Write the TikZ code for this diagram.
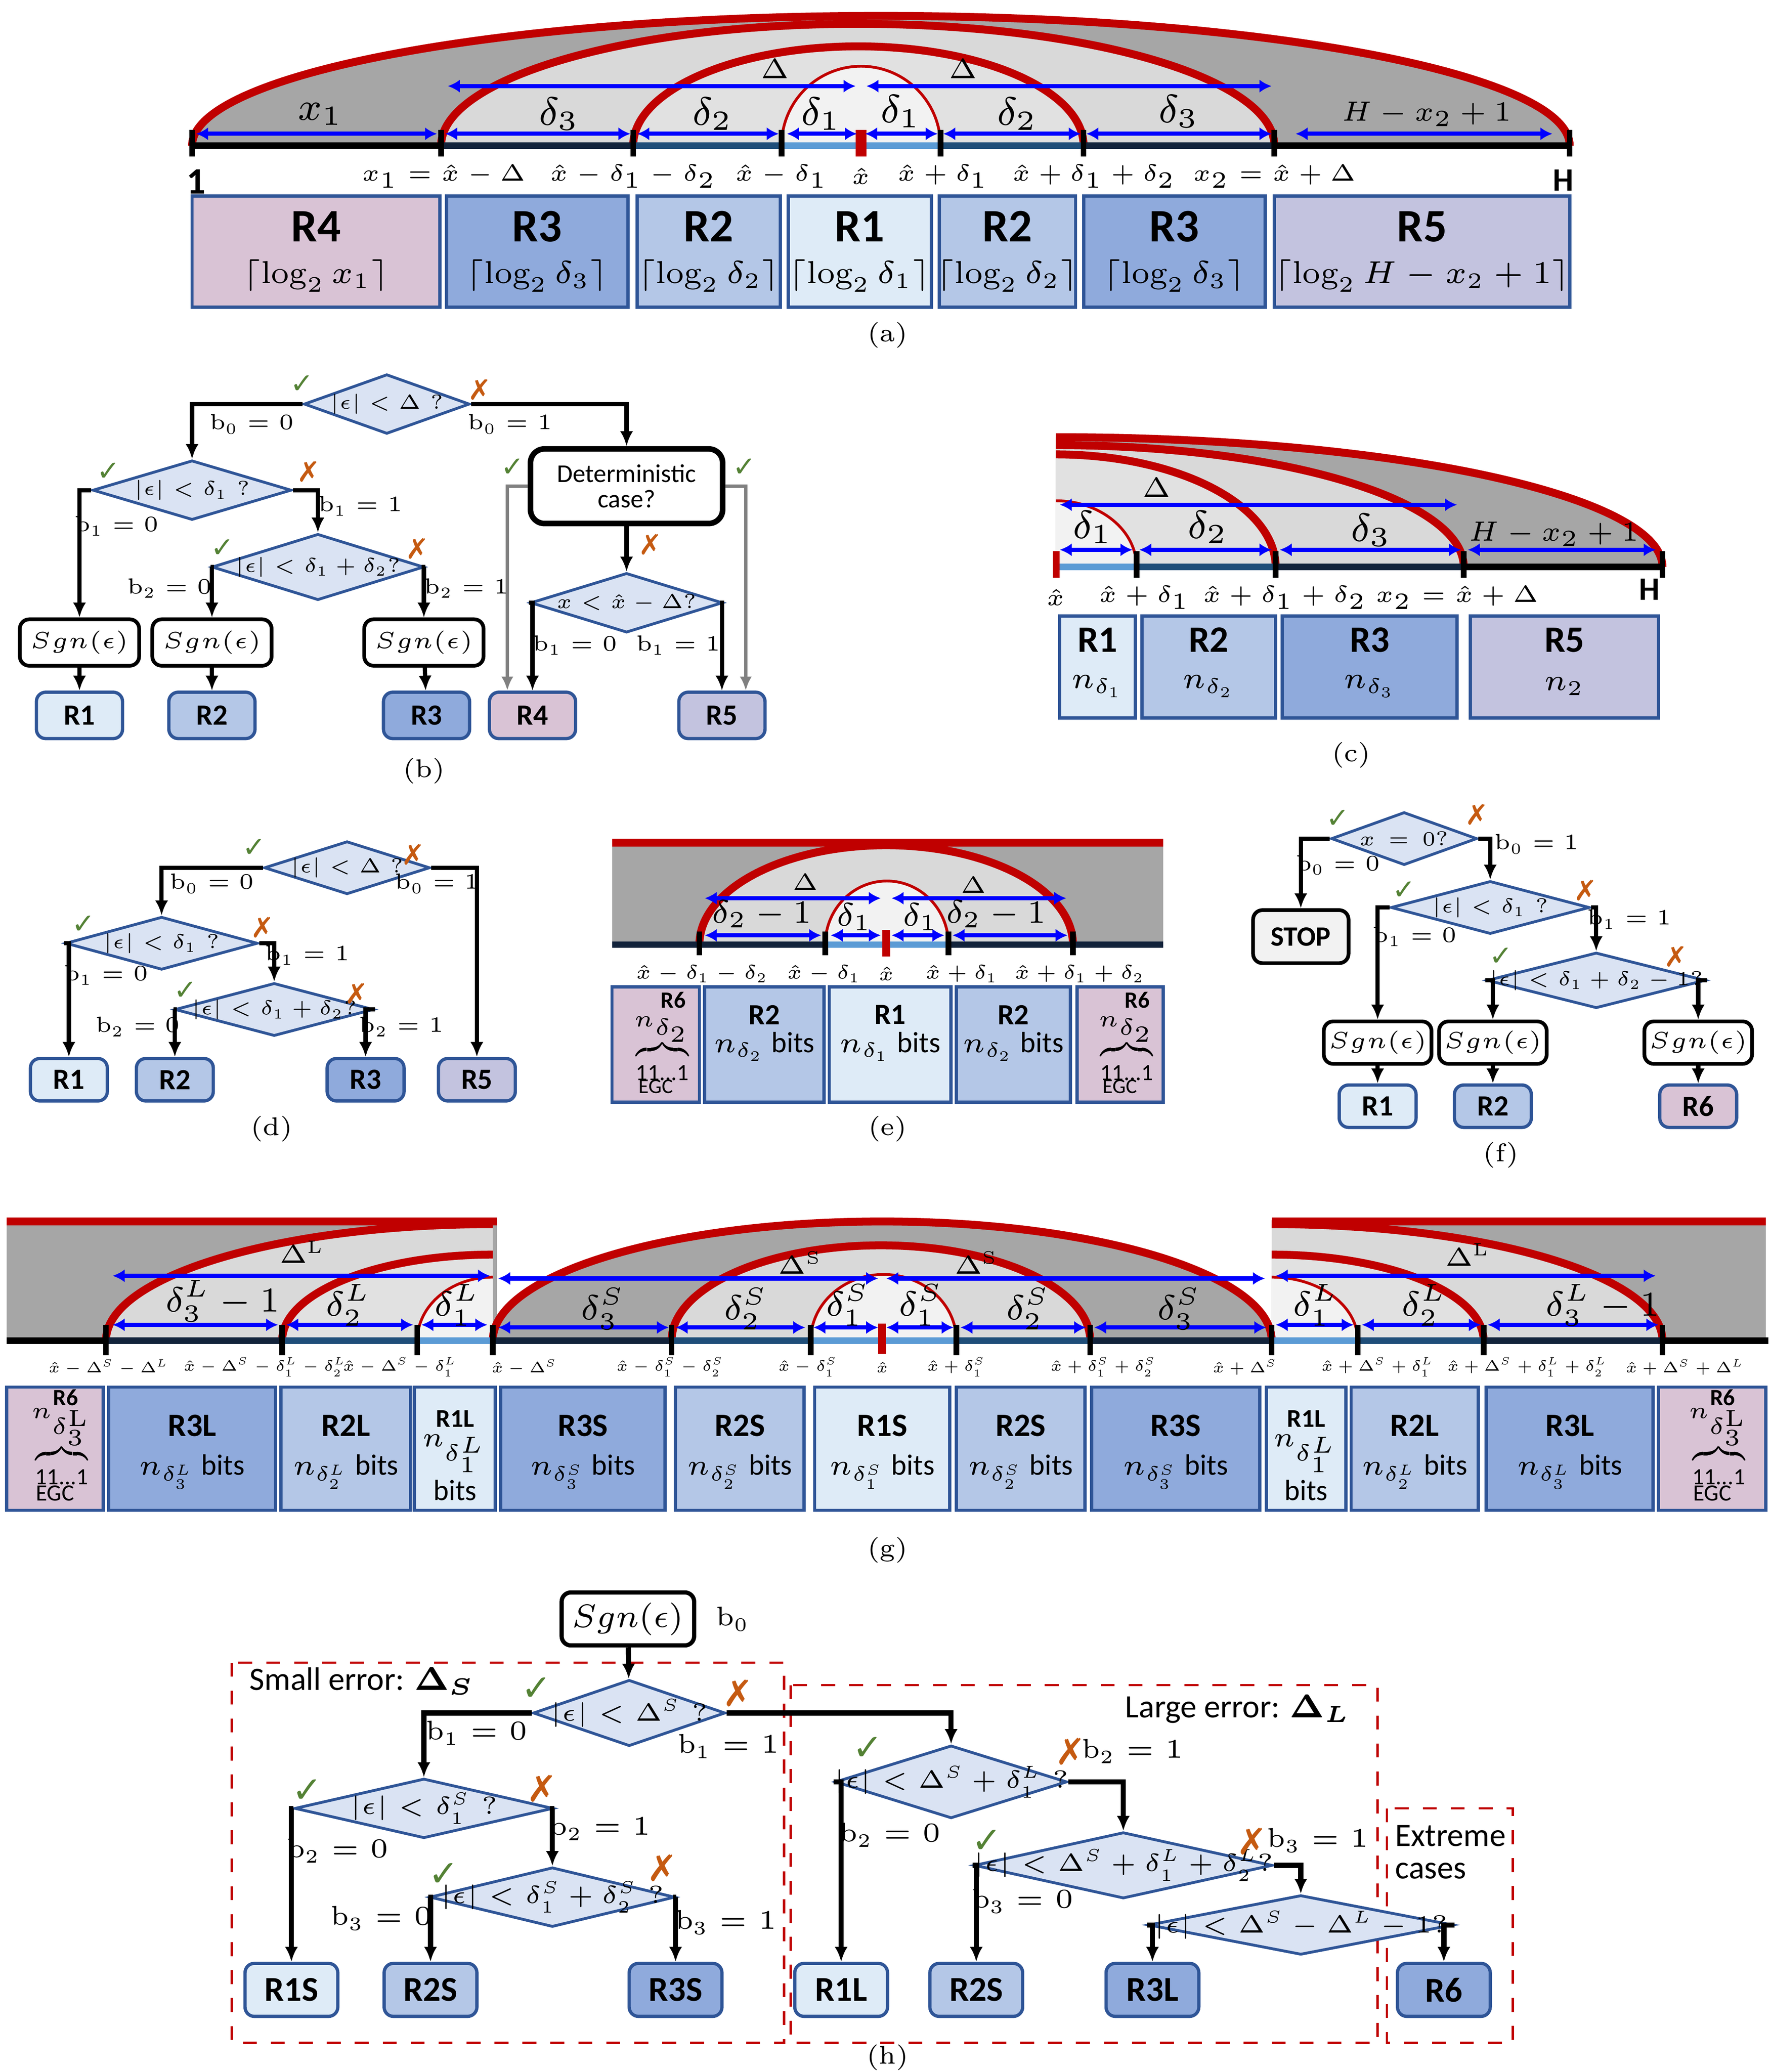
\RequirePackage{fix-cm}
\documentclass[tikz,border=0pt]{standalone}
\usepackage{fontspec}
\usepackage{amsmath}
\usetikzlibrary{arrows.meta}
\usetikzlibrary{shapes.geometric}
\newfontfamily\sff{Carlito}
\newfontfamily\djv{DejaVu Sans}
\definecolor{cRa}{HTML}{DEEBF7}
\definecolor{cRb}{HTML}{B4C7E7}
\definecolor{cRc}{HTML}{8FAADC}
\definecolor{cRd}{HTML}{D9C3D5}
\definecolor{cRe}{HTML}{C3C3DF}
\definecolor{cdia}{HTML}{DAE3F3}
\definecolor{bord}{HTML}{2F5597}
\definecolor{dgrey}{HTML}{A6A6A6}
\definecolor{lgrey}{HTML}{D9D9D9}
\definecolor{wgrey}{HTML}{F2F2F2}
\definecolor{redc}{HTML}{C00000}
\definecolor{navy}{HTML}{12233B}
\definecolor{mnavy}{HTML}{1F4E79}
\definecolor{lblue}{HTML}{5B9BD5}
\definecolor{okgreen}{HTML}{548235}
\definecolor{nored}{HTML}{C55A11}
\newcommand\fs[1]{\fontsize{#1}{#1}\selectfont}
\newcommand\ok{{\djv\color{okgreen}\fs{6}✓}}
\newcommand\no{{\djv\color{nored}\fs{6}✗}}

\tikzset{
  barr/.style={blue,line width=0.9pt,{Latex[length=2.6pt,width=2.8pt]}-{Latex[length=2.6pt,width=2.8pt]}},
  flow/.style={-{Latex[length=3.2pt,width=2.8pt]},line width=0.9pt},
  gflow/.style={-{Latex[length=3pt,width=2.6pt]},line width=0.7pt,gray},
  dia/.style={diamond,draw=bord,fill=cdia,line width=0.6pt,inner sep=0pt},
  dtext/.style={label={[font=\fs{4.3}]center:#1}},
  htext/.style={label={[font=\fs{5.3}]center:#1}},
  sgn/.style={draw,rounded corners=2pt,line width=0.8pt,fill=white,inner sep=1pt,font=\fs{5}},
  rr/.style={draw=bord,rounded corners=2pt,line width=0.7pt,font=\sff\bfseries\fs{6.3},inner sep=1pt},
  box/.style={draw=bord,line width=0.7pt},
  redarc/.style={redc,line width=1.7pt},
  thinarc/.style={redc,line width=0.6pt},
  tick/.style={line width=1.2pt},
  captxt/.style={font=\fs{5.5}}
}

\begin{document}
\begin{tikzpicture}[x=0.01cm,y=-0.01cm,font=\fs{4.7}]
\useasboundingbox (0,0) rectangle (1336,1564);

% ---------------- (a)
\fill[dgrey] (145,110) arc[start angle=180,end angle=360,x radius=520,y radius=98];
\fill[lgrey] (333,110) arc[start angle=180,end angle=360,x radius=314.5,y radius=92];
\fill[lgrey!80] (478,110) arc[start angle=180,end angle=360,x radius=170,y radius=75];
\fill[wgrey] (590,110) arc[start angle=180,end angle=360,x radius=60,y radius=60];
\draw[redarc] (145,110) arc[start angle=180,end angle=360,x radius=520,y radius=98];
\draw[redarc] (333,110) arc[start angle=180,end angle=360,x radius=314.5,y radius=92];
\draw[redarc] (478,110) arc[start angle=180,end angle=360,x radius=170,y radius=75];
\draw[thinarc] (590,110) arc[start angle=180,end angle=360,x radius=60,y radius=60];
\draw[line width=1.4pt] (143,110) -- (1185,110);
\draw[navy,line width=1.4pt] (333,110) -- (962,110);
\draw[mnavy,line width=1.4pt] (478,110) -- (818,110);
\draw[lblue,line width=1.4pt] (590,110) -- (710,110);
\foreach \x in {145,333,478,590,710,818,962,1185}
  \draw[tick] (\x,98) -- (\x,118);
\fill[redc] (646,98) rectangle (654,118);
\foreach \xa/\xb/\y in {148/330/101,336/476/101,481/588/101,594/647/101,653/708/101,712/816/101,820/960/101,978/1172/101,338/646/65,654/960/65}
  \draw[barr] (\xa,\y) -- (\xb,\y);
\foreach \x/\y/\t [count=\i] in {242/86/{x_1},422/86/{\delta_3},538/86/{\delta_2},620/86/{\delta_1},680/84/{\delta_1},768/86/{\delta_2},890/84/{\delta_3}}
  \node[font=\fs{8.5}] (ag\i) at (\x,\y) {$\t$};
\node[font=\fs{6}] (ag8) at (585,52) {$\Delta$};
\node[font=\fs{6}] (ag9) at (727,52) {$\Delta$};
\node[font=\fs{6}] (ag10) at (1077,86) {$H - x_2 + 1$};
\foreach \x/\t [count=\i] in {335/{x_1 = \hat{x} - \Delta},478/{\hat{x} - \delta_1 - \delta_2},590/{\hat{x} - \delta_1},650/{\hat{x}},712/{\hat{x} + \delta_1},826/{\hat{x} + \delta_1 + \delta_2},962/{x_2 = \hat{x} + \Delta}}
  \node[font=\fs{5}] (ax\i) at (\x,133) {$\t$};
\node[font=\sff\bfseries\fs{8}] (ax8) at (148,137) {1};
\node[font=\sff\bfseries\fs{7}] (ax9) at (1180,136) {H};
\foreach \xa/\xb/\col/\nm/\fm [count=\i] in {145/332/cRd/R4/{x_1},337/474/cRc/R3/{\delta_3},481/589/cRb/R2/{\delta_2},595/703/cRa/R1/{\delta_1},709/812/cRb/R2/{\delta_2},818/955/cRc/R3/{\delta_3},962/1185/cRe/R5/{H - x_2 + 1}}{
  \draw[box,fill=\col] (\xa,148) rectangle (\xb,232);
  \node[font=\sff\bfseries\fs{10}] (at\i) at ({(\xa+\xb)/2},171) {\nm};
  \node[font=\fs{6.8}] (af\i) at ({(\xa+\xb)/2},208) {$\lceil \log_2 \fm \rceil$};
}
\node[captxt] (capa) at (670,253) {(a)};

% ---------------- (b)
\node[dia,dtext={$|\epsilon| < \Delta$ ?},minimum width=1.25cm,minimum height=0.45cm] (bd0) at (292,305) {};
\node[dia,dtext={$|\epsilon| < \delta_1$ ?},minimum width=1.5cm,minimum height=0.45cm] (bd1) at (145,370) {};
\node[dia,dtext={$|\epsilon| < \delta_1 + \delta_2$?},minimum width=1.6cm,minimum height=0.5cm] (bd2) at (240,428) {};
\node[draw,rounded corners=3pt,line width=1.2pt,minimum width=1.45cm,minimum height=0.55cm,align=center,font=\sff\fs{5.5}] (bdet) at (473,367) {Deterministic\\case?};
\node[dia,dtext={$x < \hat{x} - \Delta$?},minimum width=1.45cm,minimum height=0.45cm] (bd3) at (473,455) {};
\foreach \x [count=\i] in {60,160,320}
  \node[sgn,minimum width=0.9cm,minimum height=0.35cm] (bs\i) at (\x,485) {$Sgn(\epsilon)$};
\foreach \x/\col/\nm in {60/cRa/R1,160/cRb/R2,322/cRc/R3,402/cRd/R4,545/cRe/R5}
  \node[rr,fill=\col,minimum width=0.65cm,minimum height=0.35cm] (b\nm) at (\x,540) {\nm};
\draw[flow] (bd0.west) -| (bd1.north);
\draw[flow] (bd0.east) -| (bdet.north);
\draw[flow] (bd1.west) -| (bs1.north);
\draw[flow] (bd1.east) -| (bd2.north);
\draw[flow] (bd2.west) -| (bs2.north);
\draw[flow] (bd2.east) -| (bs3.north);
\draw[flow] (bs1) -- (bR1);
\draw[flow] (bs2) -- (bR2);
\draw[flow] (bs3) -- (bR3);
\draw[flow] (bdet) -- (bd3);
\draw[flow] (bd3.west) -| (bR4.north);
\draw[flow] (bd3.east) -| (bR5.north);
\draw[gflow] (bdet.west) -| ([xshift=-0.19cm]bR4.north);
\draw[gflow] (bdet.east) -| ([xshift=0.18cm]bR5.north);
\foreach \x/\y/\t [count=\i] in {190/320/{\mathrm{b}_0 = 0},385/320/{\mathrm{b}_0 = 1},88/397/{\mathrm{b}_1 = 0},272/382/{\mathrm{b}_1 = 1},128/444/{\mathrm{b}_2 = 0},352/444/{\mathrm{b}_2 = 1},434/487/{\mathrm{b}_1 = 0},512/487/{\mathrm{b}_1 = 1}}
  \node (bl\i) at (\x,\y) {$\t$};
\foreach \x/\y [count=\i] in {228/290,82/356,168/414,387/353,562/353}
  \node (bok\i) at (\x,\y) {\ok};
\foreach \x/\y [count=\i] in {362/294,233/356,315/414,491/411}
  \node (bno\i) at (\x,\y) {\no};
\node[captxt] (capb) at (320,582) {(b)};

% ---------------- (c)
\fill[dgrey] (1255,428) arc[start angle=0,end angle=-90,x radius=458,y radius=98] -- (797,428) -- cycle;
\fill[lgrey] (1105,428) arc[start angle=0,end angle=-90,x radius=308,y radius=92] -- (797,428) -- cycle;
\fill[lgrey!80] (963,428) arc[start angle=0,end angle=-90,x radius=166,y radius=85] -- (797,428) -- cycle;
\fill[wgrey] (858,428) arc[start angle=0,end angle=-90,x radius=61,y radius=50] -- (797,428) -- cycle;
\draw[redarc] (1255,428) arc[start angle=0,end angle=-90,x radius=458,y radius=98];
\draw[redarc] (1105,428) arc[start angle=0,end angle=-90,x radius=308,y radius=92];
\draw[redarc] (963,428) arc[start angle=0,end angle=-90,x radius=166,y radius=85];
\draw[thinarc] (858,428) arc[start angle=0,end angle=-90,x radius=61,y radius=50];
\draw[line width=1.4pt] (797,428) -- (1255,428);
\draw[navy,line width=1.4pt] (858,428) -- (1105,428);
\draw[mnavy,line width=1.4pt] (858,428) -- (963,428);
\draw[lblue,line width=1.4pt] (797,428) -- (858,428);
\foreach \x in {858,963,1105,1255}
  \draw[tick] (\x,416) -- (\x,436);
\fill[redc] (795,416) rectangle (800,436);
\foreach \xa/\xb/\y in {800/1100/381,800/855/415,860/960/415,966/1103/415,1108/1250/415}
  \draw[barr] (\xa,\y) -- (\xb,\y);
\node[font=\fs{6}] (cg1) at (873,368) {$\Delta$};
\foreach \x/\y/\t [count=\i] in {825/398/{\delta_1},912/398/{\delta_2},1035/400/{\delta_3}}
  \node[font=\fs{8.5}] (cg\i) at (\x,\y) {$\t$};
\node[font=\fs{6}] (cg5) at (1173,403) {$H - x_2 + 1$};
\foreach \x/\t [count=\i] in {797/{\hat{x}},864/{\hat{x} + \delta_1},970/{\hat{x} + \delta_1 + \delta_2},1100/{x_2 = \hat{x} + \Delta}}
  \node[font=\fs{5}] (cx\i) at (\x,451) {$\t$};
\node[font=\sff\bfseries\fs{7}] (cx5) at (1245,445) {H};
\foreach \xa/\xb/\col/\nm/\fm [count=\i] in {800/857/cRa/R1/{n_{\delta_1}},862/963/cRb/R2/{n_{\delta_2}},968/1100/cRc/R3/{n_{\delta_3}},1110/1252/cRe/R5/{n_2}}{
  \draw[box,fill=\col] (\xa,465) rectangle (\xb,542);
  \node[font=\sff\bfseries\fs{8}] (ct\i) at ({(\xa+\xb)/2},483) {\nm};
  \node[font=\fs{6.5}] (cf\i) at ({(\xa+\xb)/2},518) {$\fm$};
}
\node[captxt] (capc) at (1020,570) {(c)};

% ---------------- (d)
\node[dia,dtext={$|\epsilon| < \Delta$ ?},minimum width=1.25cm,minimum height=0.4cm] (dd0) at (262,655) {};
\node[dia,dtext={$|\epsilon| < \delta_1$ ?},minimum width=1.45cm,minimum height=0.4cm] (dd1) at (122,712) {};
\node[dia,dtext={$|\epsilon| < \delta_1 + \delta_2$?},minimum width=1.5cm,minimum height=0.4cm] (dd2) at (207,762) {};
\foreach \x/\col/\nm in {52/cRa/R1,132/cRb/R2,276/cRc/R3,360/cRe/R5}
  \node[rr,fill=\col,minimum width=0.58cm,minimum height=0.32cm] (d\nm) at (\x,815) {\nm};
\draw[flow] (dd0.west) -| (dd1.north);
\draw[flow] (dd0.east) -| (dR5.north);
\draw[flow] (dd1.west) -| (dR1.north);
\draw[flow] (dd1.east) -| (dd2.north);
\draw[flow] (dd2.west) -| (dR2.north);
\draw[flow] (dd2.east) -| (dR3.north);
\foreach \x/\y/\t [count=\i] in {160/667/{\mathrm{b}_0 = 0},330/667/{\mathrm{b}_0 = 1},80/736/{\mathrm{b}_1 = 0},232/721/{\mathrm{b}_1 = 1},104/775/{\mathrm{b}_2 = 0},303/775/{\mathrm{b}_2 = 1}}
  \node (dl\i) at (\x,\y) {$\t$};
\foreach \x/\y [count=\i] in {192/640,63/698,140/748}
  \node (dok\i) at (\x,\y) {\ok};
\foreach \x/\y [count=\i] in {312/645,198/700,269/750}
  \node (dno\i) at (\x,\y) {\no};
\node[captxt] (capd) at (205,852) {(d)};

% ---------------- (e)
\fill[dgrey] (462,636) rectangle (878,713);
\draw[redarc] (462,636) -- (878,636);
\fill[lgrey] (528,713) arc[start angle=180,end angle=360,x radius=141,y radius=75];
\fill[wgrey] (623,713) arc[start angle=180,end angle=360,x radius=46.5,y radius=48];
\draw[redarc] (528,713) arc[start angle=180,end angle=360,x radius=141,y radius=75];
\draw[thinarc] (623,713) arc[start angle=180,end angle=360,x radius=46.5,y radius=48];
\draw[navy,line width=1.4pt] (462,713) -- (878,713);
\draw[lblue,line width=1.4pt] (623,713) -- (716,713);
\foreach \x in {528,623,716,810}
  \draw[tick] (\x,703) -- (\x,721);
\fill[redc] (666,702) rectangle (672,722);
\foreach \xa/\xb/\y in {532/665/678,673/805/678,532/620/706,627/665/706,673/713/706,719/806/706}
  \draw[barr] (\xa,\y) -- (\xb,\y);
\foreach \x/\y/\t/\s [count=\i] in {608/666/{\Delta}/5,735/668/{\Delta}/5,575/690/{\delta_2 - 1}/7,645/692/{\delta_1}/7,695/692/{\delta_1}/7,752/690/{\delta_2 - 1}/7}
  \node[font=\fs{\s}] (eg\i) at (\x,\y) {$\t$};
\foreach \x/\t [count=\i] in {530/{\hat{x} - \delta_1 - \delta_2},622/{\hat{x} - \delta_1},669/{\hat{x}},726/{\hat{x} + \delta_1},815/{\hat{x} + \delta_1 + \delta_2}}
  \node[font=\fs{4.2}] (ex\i) at (\x,735) {$\t$};
\foreach \xa/\xb/\col/\nm/\fm [count=\i] in {532/622/cRb/R2/{n_{\delta_2}},626/718/cRa/R1/{n_{\delta_1}},722/808/cRb/R2/{n_{\delta_2}}}{
  \draw[box,fill=\col] (\xa,745) rectangle (\xb,832);
  \node[font=\sff\bfseries\fs{6.3}] (et\i) at ({(\xa+\xb)/2},766) {\nm};
  \node[font=\sff\fs{6.3}] (ef\i) at ({(\xa+\xb)/2},790) {$\fm$ bits};
}
\foreach \xa/\xb [count=\i] in {462/528,813/878}{
  \draw[box,fill=cRd] (\xa,745) rectangle (\xb,832);
  \node[font=\sff\bfseries\fs{5}] (er\i) at ({\xa+(\xb-\xa)*0.7},755) {R6};
  \node[font=\fs{5}] (en\i) at ({(\xa+\xb)/2+5},777) {$n_{\delta_2}$};
  \node[font=\sff\fs{5}] (eb\i) at ({(\xa+\xb)/2+5},798) {$\overbrace{\text{11...1}}$};
  \node[font=\sff\fs{4.5}] (ee\i) at ({(\xa+\xb)/2},820) {EGC};
}
\node[captxt] (cape) at (670,852) {(e)};

% ---------------- (f)
\node[dia,dtext={$x\,=\,0$?},minimum width=1.1cm,minimum height=0.4cm] (fd0) at (1060,633) {};
\node[draw,rounded corners=2pt,line width=0.8pt,fill=wgrey,minimum width=0.72cm,minimum height=0.4cm,font=\sff\bfseries\fs{6}] (fstop) at (982,707) {STOP};
\node[dia,dtext={$|\epsilon| < \delta_1$ ?},minimum width=1.5cm,minimum height=0.4cm] (fd1) at (1125,685) {};
\node[dia,dtext={$|\epsilon| < \delta_1 + \delta_2 - 1$?},minimum width=1.65cm,minimum height=0.42cm] (fd2) at (1205,740) {};
\foreach \x [count=\i] in {1040,1127,1282}
  \node[sgn,minimum width=0.8cm,minimum height=0.32cm] (fs\i) at (\x,787) {$Sgn(\epsilon)$};
\foreach \x/\col/\nm in {1040/cRa/R1,1127/cRb/R2,1282/cRd/R6}
  \node[rr,fill=\col,minimum width=0.58cm,minimum height=0.32cm] (f\nm) at (\x,835) {\nm};
\draw[flow] (fd0.west) -| (fstop.north);
\draw[flow] (fd0.east) -| (fd1.north);
\draw[flow] (fd1.west) -| (fs1.north);
\draw[flow] (fd1.east) -| (fd2.north);
\draw[flow] (fd2.west) -| (fs2.north);
\draw[flow] (fd2.east) -| (fs3.north);
\draw[flow] (fs1) -- (fR1);
\draw[flow] (fs2) -- (fR2);
\draw[flow] (fs3) -- (fR6);
\foreach \x/\y/\t [count=\i] in {1010/653/{\mathrm{b}_0 = 0},1160/637/{\mathrm{b}_0 = 1},1068/707/{\mathrm{b}_1 = 0},1230/694/{\mathrm{b}_1 = 1}}
  \node (fl\i) at (\x,\y) {$\t$};
\foreach \x/\y [count=\i] in {1010/618,1060/672,1133/722}
  \node (fok\i) at (\x,\y) {\ok};
\foreach \x/\y [count=\i] in {1115/615,1197/672,1265/722}
  \node (fno\i) at (\x,\y) {\no};
\node[captxt] (capf) at (1133,872) {(f)};

% ---------------- (g)
\fill[dgrey] (5,922) rectangle (375,1012);
\fill[dgrey] (960,922) rectangle (1333,1012);
\draw[redarc] (5,922) -- (375,922);
\draw[redarc] (960,922) -- (1333,922);
\fill[dgrey] (372,1012) arc[start angle=180,end angle=360,x radius=294,y radius=90];
\fill[lgrey] (80,1012) arc[start angle=180,end angle=270,x radius=292,y radius=88] -- (372,1012) -- cycle;
\fill[lgrey!80] (213,1012) arc[start angle=180,end angle=270,x radius=159,y radius=65] -- (372,1012) -- cycle;
\fill[wgrey] (315,1012) arc[start angle=180,end angle=270,x radius=57,y radius=48] -- (372,1012) -- cycle;
\fill[lgrey] (1255,1012) arc[start angle=0,end angle=-90,x radius=295,y radius=88] -- (960,1012) -- cycle;
\fill[lgrey!80] (1120,1012) arc[start angle=0,end angle=-90,x radius=160,y radius=65] -- (960,1012) -- cycle;
\fill[wgrey] (1025,1012) arc[start angle=0,end angle=-90,x radius=65,y radius=48] -- (960,1012) -- cycle;
\fill[lgrey] (507,1012) arc[start angle=180,end angle=360,x radius=158,y radius=72];
\fill[wgrey] (612,1012) arc[start angle=180,end angle=360,x radius=55,y radius=50];
\draw[redarc] (372,1012) arc[start angle=180,end angle=360,x radius=294,y radius=90];
\draw[redarc] (507,1012) arc[start angle=180,end angle=360,x radius=158,y radius=72];
\draw[thinarc] (612,1012) arc[start angle=180,end angle=360,x radius=55,y radius=50];
\draw[redarc] (80,1012) arc[start angle=180,end angle=270,x radius=292,y radius=88];
\draw[redarc] (213,1012) arc[start angle=180,end angle=270,x radius=159,y radius=65];
\draw[thinarc] (315,1012) arc[start angle=180,end angle=270,x radius=57,y radius=48];
\draw[redarc] (1255,1012) arc[start angle=0,end angle=-90,x radius=295,y radius=88];
\draw[redarc] (1120,1012) arc[start angle=0,end angle=-90,x radius=160,y radius=65];
\draw[thinarc] (1025,1012) arc[start angle=0,end angle=-90,x radius=65,y radius=48];
\draw[line width=1.4pt] (5,1012) -- (1335,1012);
\draw[navy,line width=1.4pt] (80,1012) -- (1255,1012);
\draw[mnavy,line width=1.4pt] (213,1012) -- (315,1012);
\draw[mnavy,line width=1.4pt] (507,1012) -- (823,1012);
\draw[mnavy,line width=1.4pt] (1025,1012) -- (1120,1012);
\draw[lblue,line width=1.4pt] (315,1012) -- (372,1012);
\draw[lblue,line width=1.4pt] (612,1012) -- (722,1012);
\draw[lblue,line width=1.4pt] (960,1012) -- (1025,1012);
\foreach \x in {80,213,315,372,507,612,722,823,960,1025,1120,1255}
  \draw[tick] (\x,1000) -- (\x,1023);
\fill[redc] (663,999) rectangle (669,1022);
\foreach \xa/\xb/\y in {85/370/963,376/663/965,669/955/965,963/1250/963,85/210/1000,216/312/1000,318/368/1000,376/505/1002,510/608/1002,614/663/1002,669/720/1002,725/820/1002,826/956/1002,963/1022/1000,1028/1118/1000,1123/1252/1000}
  \draw[barr] (\xa,\y) -- (\xb,\y);
\foreach \x/\y/\t [count=\i] in {228/945/{\Delta^{\mathrm{L}}},604/953/{\Delta^{\mathrm{S}}},737/953/{\Delta^{\mathrm{S}}},1108/947/{\Delta^{\mathrm{L}}}}
  \node[font=\fs{5.5}] (gD\i) at (\x,\y) {$\t$};
\foreach \x/\y/\t [count=\i] in {168/982/{\delta_3^L - 1},263/985/{\delta_2^L},345/985/{\delta_1^L},455/988/{\delta_3^S},563/988/{\delta_2^S},640/985/{\delta_1^S},695/985/{\delta_1^S},776/988/{\delta_2^S},890/988/{\delta_3^S},993/985/{\delta_1^L},1075/985/{\delta_2^L},1210/985/{\delta_3^L - 1}}
  \node[font=\fs{7.5}] (gg\i) at (\x,\y) {$\t$};
\foreach \x/\t [count=\i] in {82/{\hat{x} - \Delta^S - \Delta^L},200/{\hat{x} - \Delta^S - \delta_1^L - \delta_2^L},302/{\hat{x} - \Delta^S - \delta_1^L},396/{\hat{x} - \Delta^S},506/{\hat{x} - \delta_1^S - \delta_2^S},610/{\hat{x} - \delta_1^S},666/{\hat{x}},722/{\hat{x} + \delta_1^S},833/{\hat{x} + \delta_1^S + \delta_2^S},940/{\hat{x} + \Delta^S},1040/{\hat{x} + \Delta^S + \delta_1^L},1153/{\hat{x} + \Delta^S + \delta_1^L + \delta_2^L},1272/{\hat{x} + \Delta^S + \Delta^L}}
  \node[font=\fs{3.2},inner sep=0.3pt] (gx\i) at (\x,1032) {$\t$};
\foreach \xa/\xb/\col/\nm/\fm [count=\i] in {82/208/cRc/R3L/{\delta_3^L},212/310/cRb/R2L/{\delta_2^L},378/502/cRc/R3S/{\delta_3^S},510/607/cRb/R2S/{\delta_2^S},615/717/cRa/R1S/{\delta_1^S},722/819/cRb/R2S/{\delta_2^S},824/951/cRc/R3S/{\delta_3^S},1020/1116/cRb/R2L/{\delta_2^L},1122/1248/cRc/R3L/{\delta_3^L}}{
  \draw[box,fill=\col] (\xa,1047) rectangle (\xb,1140);
  \node[font=\sff\bfseries\fs{7}] (gt\i) at ({(\xa+\xb)/2},1076) {\nm};
  \node[font=\sff\fs{6.3}] (gf\i) at ({(\xa+\xb)/2},1111) {$n_{\fm}$ bits};
}
\foreach \xa/\xb [count=\i] in {313/374,956/1016}{
  \draw[box,fill=cRa] (\xa,1047) rectangle (\xb,1140);
  \node[font=\sff\bfseries\fs{5.5}] (gr\i) at ({(\xa+\xb)/2},1071) {R1L};
  \node[font=\fs{6}] (gn\i) at ({(\xa+\xb)/2},1097) {$n_{\delta_1^L}$};
  \node[font=\sff\fs{6.3}] (gb\i) at ({(\xa+\xb)/2},1125) {bits};
}
\foreach \xa/\xb [count=\i] in {5/78,1252/1333}{
  \draw[box,fill=cRd] (\xa,1047) rectangle (\xb,1140);
  \node[font=\sff\bfseries\fs{5}] (g6\i) at ({(\xa+\xb)/2+8},1055) {R6};
  \node[font=\fs{5}] (g6n\i) at ({(\xa+\xb)/2+5},1077) {$n_{\delta_3^{\mathrm{L}}}$};
  \node[font=\sff\fs{5}] (g6b\i) at ({(\xa+\xb)/2+5},1103) {$\overbrace{\text{11...1}}$};
  \node[font=\sff\fs{5}] (g6e\i) at ({(\xa+\xb)/2},1127) {EGC};
}
\node[captxt] (capg) at (670,1170) {(g)};

% ---------------- (h)
\begin{scope}[font=\fs{5.8}]
\draw[redc,dashed,line width=0.5pt] (175,1255) rectangle (592,1542);
\draw[redc,dashed,line width=0.5pt] (597,1272) rectangle (1040,1542);
\draw[redc,dashed,line width=0.5pt] (1047,1365) rectangle (1142,1542);
\node[anchor=west,font=\sff\fs{7}] (hsmall) at (176,1269) {Small error: $\boldsymbol{\Delta_S}$};
\node[anchor=east,font=\sff\fs{7}] (hlarge) at (1032,1290) {Large error: $\boldsymbol{\Delta_L}$};
\node[align=left,font=\sff\fs{7}] (hext) at (1095,1398) {Extreme\\cases};
\node[sgn,line width=0.9pt,minimum width=1cm,minimum height=0.4cm,font=\fs{7}] (hsg) at (474,1222) {$Sgn(\epsilon)$};
\node[anchor=west] (hb0) at (528,1222) {$\mathrm{b}_0$};
\node[dia,htext={$|\epsilon| < \Delta^S$ ?},minimum width=1.45cm,minimum height=0.5cm] (hd0) at (475,1293) {};
\node[dia,htext={$|\epsilon| < \delta_1^S$ ?},minimum width=1.95cm,minimum height=0.45cm] (hd1) at (320,1365) {};
\node[dia,htext={$|\epsilon| < \delta_1^S + \delta_2^S$ ?},minimum width=1.85cm,minimum height=0.45cm] (hd2) at (417,1432) {};
\node[dia,htext={$|\epsilon| < \Delta^S + \delta_1^L$ ?},minimum width=1.75cm,minimum height=0.55cm] (hl1) at (718,1345) {};
\node[dia,htext={$|\epsilon| < \Delta^S + \delta_1^L + \delta_2^L$?},minimum width=2.25cm,minimum height=0.5cm] (hl2) at (848,1408) {};
\node[dia,htext={$|\epsilon| < \Delta^S - \Delta^L - 1$?},minimum width=2.3cm,minimum height=0.45cm] (hl3) at (982,1453) {};
\foreach \x/\col/\nm/\ix in {220/cRa/R1S/a,325/cRb/R2S/b,510/cRc/R3S/c,635/cRa/R1L/d,737/cRb/R2S/e,870/cRc/R3L/f,1090/cRc/R6/g}
  \node[rr,fill=\col,minimum width=0.7cm,minimum height=0.4cm,font=\sff\bfseries\fs{7.5}] (hR\ix) at (\x,1502) {\nm};
\draw[flow,line width=1.1pt] (hsg) -- (hd0);
\draw[flow,line width=1.1pt] (hd0.west) -| (hd1.north);
\draw[flow,line width=1.1pt] (hd0.east) -| (hl1.north);
\draw[flow,line width=1.1pt] (hd1.west) -| (hRa.north);
\draw[flow,line width=1.1pt] (hd1.east) -| (hd2.north);
\draw[flow,line width=1.1pt] (hd2.west) -| (hRb.north);
\draw[flow,line width=1.1pt] (hd2.east) -| (hRc.north);
\draw[flow,line width=1.1pt] (hl1.west) -| (hRd.north);
\draw[flow,line width=1.1pt] (hl1.east) -| (hl2.north);
\draw[flow,line width=1.1pt] (hl2.west) -| (hRe.north);
\draw[flow,line width=1.1pt] (hl2.east) -| (hl3.north);
\draw[flow,line width=1.1pt] (hl3.west) -| (hRf.north);
\draw[flow,line width=1.1pt] (hl3.east) -| (hRg.north);
\foreach \x/\y/\t [count=\i] in {360/1308/{\mathrm{b}_1 = 0},550/1318/{\mathrm{b}_1 = 1},255/1397/{\mathrm{b}_2 = 0},453/1380/{\mathrm{b}_2 = 1},288/1448/{\mathrm{b}_3 = 0},548/1451/{\mathrm{b}_3 = 1},855/1322/{\mathrm{b}_2 = 1},672/1385/{\mathrm{b}_2 = 0},995/1389/{\mathrm{b}_3 = 1},772/1435/{\mathrm{b}_3 = 0}}
  \node (hl\i) at (\x,\y) {$\t$};
\foreach \x/\y [count=\i] in {405/1275,232/1352,335/1415,655/1320,745/1390}
  \node[scale=1.3] (hok\i) at (\x,\y) {\ok};
\foreach \x/\y [count=\i] in {557/1278,409/1350,500/1410,808/1322,945/1390}
  \node[scale=1.3] (hno\i) at (\x,\y) {\no};
\end{scope}
\node[captxt] (caph) at (670,1553) {(h)};
\end{tikzpicture}
\end{document}
